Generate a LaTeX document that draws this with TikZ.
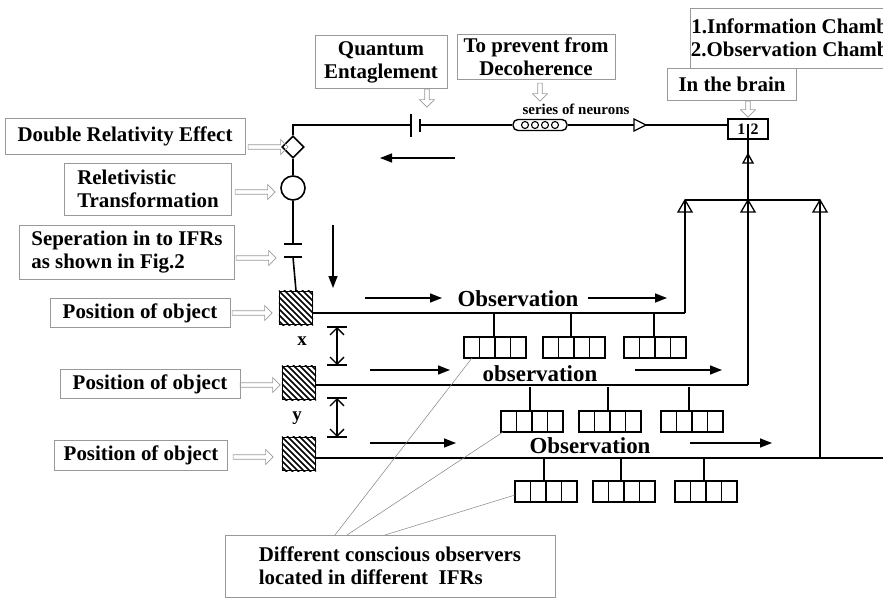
\documentclass[tikz,border=0pt]{standalone}
\usepackage{fontspec}
\setmainfont{Liberation Serif}
\usetikzlibrary{shapes.arrows,shapes.geometric,arrows.meta}
\begin{document}
\begin{tikzpicture}[x=1bp,y=-1bp,line width=1.6pt,
 lbl/.style={draw=gray!80,line width=0.6pt,fill=white,align=center,font=\bfseries\fontsize{21}{23}\selectfont,inner sep=2pt},
 harr/.style={single arrow,draw=gray!80,line width=0.6pt,minimum height=40bp,minimum width=15bp,single arrow head extend=3bp,inner sep=1pt},
 obj/.style={draw,minimum size=33bp,inner sep=0pt,line width=1.4pt},
 big/.style={-{Triangle[length=12bp,width=9bp]},line width=1.5pt},
 obs/.style={font=\bfseries\fontsize{23}{24}\selectfont},
 thin/.style={draw=gray,line width=0.5pt}]
\useasboundingbox (0,0) rectangle (883,610);
% left chain
\coordinate (tl) at (293,125);
\node[draw,diamond,minimum size=22bp,inner sep=0pt] (dia) at (293,147) {};
\node[draw,circle,minimum size=24bp,inner sep=0pt] (cir) at (293,188) {};
\coordinate (c1) at (293,244); \coordinate (c2) at (293,257);
\node[obj] (o1) at (296,308) {};
\node[obj] (o2) at (299,383) {};
\node[obj] (o3) at (299,454) {};
\foreach \o in {o1,o2,o3}{
 \begin{scope}
 \clip (\o.south west) rectangle (\o.north east);
 \foreach \d in {-36,-30,...,36}{\draw[line width=1.5pt] ([xshift=\d bp-18bp,yshift=18bp]\o.center) -- ([xshift=\d bp+18bp,yshift=-18bp]\o.center);}
 \end{scope}}
\draw (dia.north) -- (tl) -- (411,125);
\draw (dia.south) -- (cir.north);
\draw (cir.south) -- (c1); \draw (c2) -- (o1.north);
\draw (284,244) -- (302,244); \draw (284,257) -- (302,257);
% capacitor
\draw (411,114) -- (411,137); \draw (420,119) -- (420,132);
\node[draw,rounded corners=5bp,minimum width=54bp,minimum height=11bp,inner sep=0pt,line width=1.4pt] (neu) at (540,125) {};
\foreach \i in {525,535,545,555}{\draw[line width=1.1pt] (\i,125) circle (3.5bp);}
\node[font=\bfseries\fontsize{15}{15}\selectfont] at (576,109) {series of neurons};
\draw (420,125) -- (neu.west);
\draw (neu.east) -- (634,125);
\draw[line width=1.3pt] (634,119) -- (646,125) -- (634,131) -- cycle;
\node[draw,minimum width=40bp,minimum height=20bp,inner sep=0pt,font=\bfseries\fontsize{16}{16}\selectfont] (brain) at (748,129) {1\,\,2};
\draw (646,125) -- (727,125);
% collector
\draw (748,124) -- (748,200);
\draw[line width=1.3pt] (748,154) -- (743,163) -- (753,163) -- cycle;
\draw (685,200) -- (820,200);
\foreach \xx in {685,748,820}{\draw[line width=1.3pt] (\xx,200) -- (\xx-7,212) -- (\xx+7,212) -- cycle;}
\draw (685,200) -- (685,313);
\draw (748,200) -- (748,385);
\draw (820,200) -- (820,458);
% rows
\draw (o1.east |- 0,313) -- (685,313);
\draw (o2.east |- 0,385) -- (748,385);
\draw (o3.east |- 0,458) -- (883,458);
% arrows
\draw[big] (455,158) -- (380,158);
\draw[big] (333,225) -- (333,288);
\draw[big] (365,298) -- (442,298); \draw[big] (588,298) -- (667,298);
\draw[big] (370,370) -- (450,370); \draw[big] (635,370) -- (722,370);
\draw[big] (370,443) -- (456,443); \draw[big] (690,443) -- (772,443);
\node[obs] at (518,299) {Observation};
\node[obs] at (540,374) {observation};
\node[obs] at (590,446) {Observation};
% dims
\foreach \a/\b in {327/365,398/437}{
 \draw[line width=1.3pt] (327,\a) -- (347,\a); \draw[line width=1.3pt] (327,\b) -- (347,\b);
 \draw[line width=1.3pt,{Straight Barb[length=7bp,width=14bp]}-{Straight Barb[length=7bp,width=14bp]}] (337,\a) -- (337,\b);}
\node[font=\bfseries\fontsize{19}{19}\selectfont] at (302,341) {x};
\node[font=\bfseries\fontsize{19}{19}\selectfont] at (297,418) {y};
% observers
\foreach \x/\y/\s in {464/337/494,543/337/571,624/337/654, 501/411/530,579/411/608,661/411/689, 515/481/544,593/481/621,675/481/704}{
 \draw[line width=1.4pt] (\x,\y) rectangle (\x+62,\y+21);
 \foreach \k in {1,2,3}{\draw[line width=1.4pt] (\x+15.5*\k,\y) -- (\x+15.5*\k,\y+21);}
 \draw[line width=1.4pt] (\s,\y) -- (\s,\y-24);}
% labels left
\node[lbl,minimum width=240bp,minimum height=36bp] (l1) at (125,136) {Double Relativity Effect};
\node[lbl,minimum width=167bp,minimum height=52bp,align=left] (l2) at (148,189) {Reletivistic\\Transformation};
\node[lbl,minimum width=215bp,minimum height=54bp,align=left] (l3) at (127,252) {Seperation in to IFRs\\as shown in Fig.2};
\node[lbl,minimum width=180bp,minimum height=29bp] (l4) at (140,313) {Position of object};
\node[lbl,minimum width=180bp,minimum height=29bp] (l5) at (150,384) {Position of object};
\node[lbl,minimum width=173bp,minimum height=30bp] (l6) at (141,455) {Position of object};
\node[harr] at (267,147) {};
\node[harr] at (254,192) {};
\node[harr] at (255,258) {};
\node[harr] at (251,313) {};
\node[harr] at (259,385) {};
\node[harr] at (252,457) {};
% top labels
\node[lbl,minimum width=132bp,minimum height=53bp] (q) at (381,62) {Quantum\\Entaglement};
\node[lbl,minimum width=158bp,minimum height=45bp] (d) at (536,57) {To prevent from\\Decoherence};
\node[lbl,minimum width=129bp,minimum height=32bp] (ib) at (732,84) {In the brain};
\node[lbl,minimum width=132bp,minimum height=60bp,inner sep=1pt] (ic) at (799,38) {1.Information Chamber\\2.Observation Chamber};
\node[harr,minimum height=18bp,rotate=-90] at (427,97) {};
\node[harr,minimum height=18bp,rotate=-90] at (540,91) {};
\node[harr,minimum height=16bp,rotate=-90] at (748,108) {};
% bottom
\node[lbl,minimum width=330bp,minimum height=62bp,align=left] (bt) at (390,566) {Different conscious observers\\located in different \ IFRs};
\draw[thin] (335,535) -- (472,358);
\draw[thin] (347,535) -- (503,432);
\draw[thin] (385,535) -- (515,495);
\end{tikzpicture}
\end{document}
